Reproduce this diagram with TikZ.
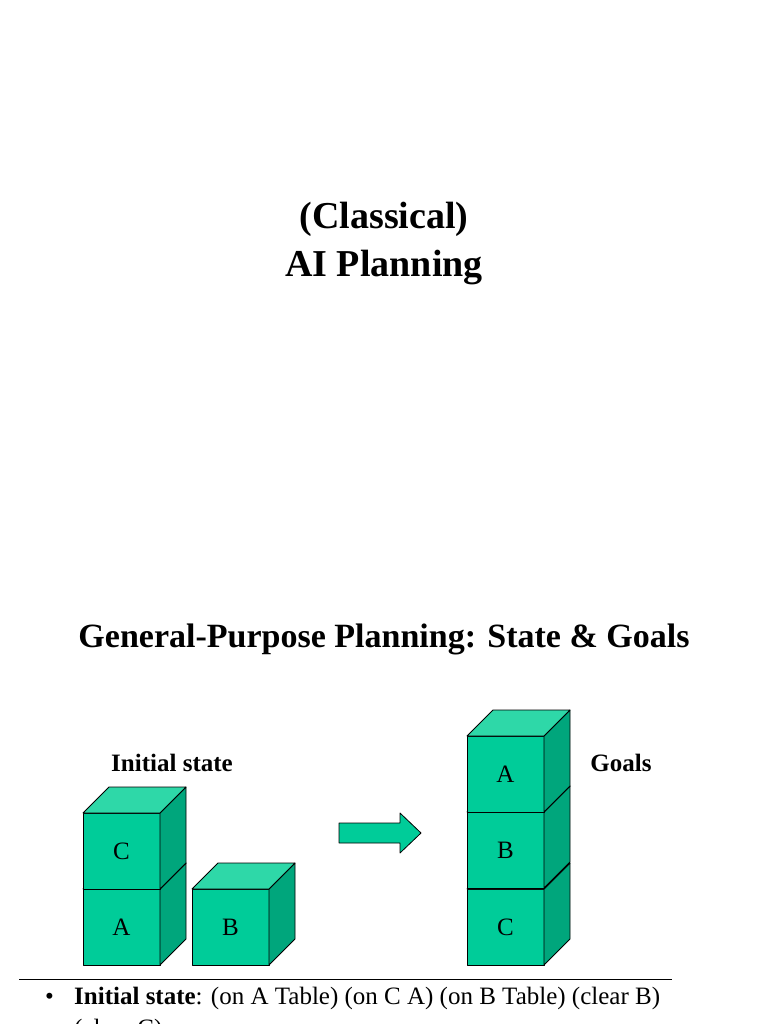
\documentclass[tikz,border=0pt]{standalone}
\usepackage{fontspec}
\setmainfont{Liberation Serif}
\definecolor{front}{HTML}{00CC99}
\definecolor{topc}{HTML}{2ED8A8}
\definecolor{sidec}{HTML}{00A67C}
\begin{document}
\begin{tikzpicture}[x=1pt,y=-1pt,
  face/.style={draw=black,line width=0.8pt,line join=round},
  lbl/.style={font=\fontsize{25}{29}\selectfont},
  box/.pic={
    \path[face,fill=front] (0,0) rectangle (77,76);
    \path[face,fill=sidec] (77,0) -- (103,-26) -- (103,50) -- (77,76) -- cycle;
    \path[face,fill=topc] (0,0) -- (26,-26) -- (103,-26) -- (77,0) -- cycle;
    \node[lbl] at (38.5,38) {\tikzpictext};
  }]
\useasboundingbox (0,0) rectangle (768,1024);
\fill[white] (0,0) rectangle (768,1024);
\node[font=\fontsize{38}{48}\selectfont\bfseries,align=center] (title) at (384,244) {(Classical)\\AI Planning};
\node[font=\fontsize{34}{40}\selectfont\bfseries] (head) at (384,639) {General-Purpose Planning: State \& Goals};
\node[font=\fontsize{25}{29}\selectfont\bfseries] (init) at (172,763) {Initial state};
\node[font=\fontsize{25}{29}\selectfont\bfseries] (goals) at (621,763) {Goals};
% initial state
\pic[pic text=A] at (83,889) {box};
\pic[pic text=C] at (83,813) {box};
\pic[pic text=B] at (192,889) {box};
% goals
\pic[pic text=C] at (467,889) {box};
\pic[pic text=B] at (467,812) {box};
\pic[pic text=A] at (467,736) {box};
% arrow
\path[face,fill=front] (339,823) -- (400,823) -- (400,813) -- (421,833) -- (400,853) -- (400,843) -- (339,843) -- cycle;
\draw[line width=0.8pt] (19,979) -- (672,979);
\node[font=\fontsize{25}{29}\selectfont,anchor=base west,inner sep=0pt] (b1) at (45,1004) {•};
\node[font=\fontsize{25}{29}\selectfont,anchor=base west,inner sep=0pt] (t1) at (74,1004) {\textbf{Initial state}: (on A Table) (on C A) (on B Table) (clear B)};
\node[font=\fontsize{25}{29}\selectfont,anchor=base west,inner sep=0pt] (t2) at (74,1036) {(clear C)};
\end{tikzpicture}
\end{document}
